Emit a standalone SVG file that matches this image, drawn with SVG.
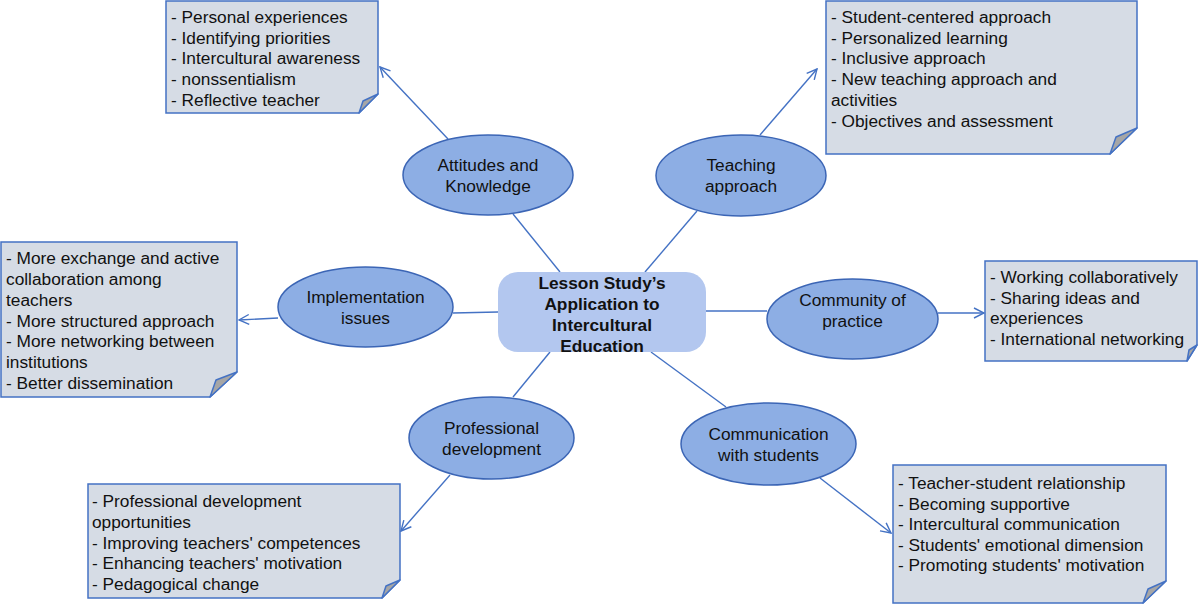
<svg xmlns="http://www.w3.org/2000/svg" width="1200" height="605" viewBox="0 0 1200 605">
<defs>
<style>
text{font-family:"Liberation Sans",Arial,sans-serif;font-size:17.3px;fill:#111}
.note{fill:#D6DCE5;stroke:#4472C4;stroke-width:1.5}
.fold{fill:#A6A6A6;stroke:#4472C4;stroke-width:1.5;stroke-linejoin:round}
.ell{fill:#8DAEE4;stroke:#3B65B5;stroke-width:1.5}
.ctr{fill:#B3C7EF}
.c{text-anchor:middle}
.b{font-weight:bold}
.ln{stroke:#4472C4;stroke-width:1.4;fill:none}
</style>
<marker id="arr" viewBox="0 0 12 12" refX="11" refY="6" markerWidth="12" markerHeight="12" markerUnits="userSpaceOnUse" orient="auto">
<path d="M1,1 L11,6 L1,11" fill="none" stroke="#4472C4" stroke-width="1.4"/>
</marker>
</defs>
<rect width="1200" height="605" fill="#fff"/>

<g id="connectors">
<line class="ln" x1="560" y1="272" x2="513" y2="214"/>
<line class="ln" x1="448" y1="139" x2="380" y2="67" marker-end="url(#arr)"/>
<line class="ln" x1="645" y1="272" x2="697" y2="211"/>
<line class="ln" x1="760" y1="135" x2="817" y2="69" marker-end="url(#arr)"/>
<line class="ln" x1="706" y1="311" x2="767" y2="311"/>
<line class="ln" x1="938" y1="313" x2="984" y2="313" marker-end="url(#arr)"/>
<line class="ln" x1="498" y1="312" x2="453" y2="313"/>
<line class="ln" x1="278" y1="318" x2="239" y2="320" marker-end="url(#arr)"/>
<line class="ln" x1="550" y1="352" x2="513" y2="397"/>
<line class="ln" x1="450" y1="475" x2="401" y2="531" marker-end="url(#arr)"/>
<line class="ln" x1="651" y1="352" x2="726" y2="407"/>
<line class="ln" x1="820" y1="478" x2="891" y2="533" marker-end="url(#arr)"/>
</g>

<g id="center">
<rect class="ctr" x="498" y="272" width="208" height="80" rx="20"/>
<text class="c b" x="602" y="289">Lesson Study’s</text>
<text class="c b" x="602" y="310">Application to</text>
<text class="c b" x="602" y="331">Intercultural</text>
<text class="c b" x="602" y="352">Education</text>
</g>

<g id="attitudes">
<ellipse class="ell" cx="488" cy="175" rx="85" ry="40"/>
<text class="c" x="488" y="171">Attitudes and</text>
<text class="c" x="488" y="192">Knowledge</text>
</g>
<g id="teaching">
<ellipse class="ell" cx="741" cy="175.5" rx="85" ry="40.5"/>
<text class="c" x="741" y="171">Teaching</text>
<text class="c" x="741" y="192">approach</text>
</g>
<g id="implementation">
<ellipse class="ell" cx="365.5" cy="307" rx="87.5" ry="40"/>
<text class="c" x="365.5" y="303">Implementation</text>
<text class="c" x="365.5" y="324">issues</text>
</g>
<g id="community">
<ellipse class="ell" cx="852.5" cy="319" rx="85.5" ry="40"/>
<text class="c" x="852.5" y="306">Community of</text>
<text class="c" x="852.5" y="327">practice</text>
</g>
<g id="professional">
<ellipse class="ell" cx="491.5" cy="438" rx="82.5" ry="41"/>
<text class="c" x="491.5" y="434">Professional</text>
<text class="c" x="491.5" y="455">development</text>
</g>
<g id="communication">
<ellipse class="ell" cx="768.5" cy="444" rx="87.5" ry="41"/>
<text class="c" x="768.5" y="440">Communication</text>
<text class="c" x="768.5" y="461">with students</text>
</g>

<g id="note-attitudes">
<path class="note" d="M166,1 H378 V94 L359,113 H166 Z"/>
<path class="fold" d="M378,94 L363,101 L359,113 Z"/>
<text x="171" y="23">- Personal experiences</text>
<text x="171" y="44">- Identifying priorities</text>
<text x="171" y="64">- Intercultural awareness</text>
<text x="171" y="85">- nonssentialism</text>
<text x="171" y="106">- Reflective teacher</text>
</g>
<g id="note-teaching">
<path class="note" d="M826,1 H1137 V128 L1110,154 H826 Z"/>
<path class="fold" d="M1137,128 L1116,137 L1110,154 Z"/>
<text x="831" y="23">- Student-centered approach</text>
<text x="831" y="44">- Personalized learning</text>
<text x="831" y="64">- Inclusive approach</text>
<text x="831" y="85">- New teaching approach and</text>
<text x="831" y="106">activities</text>
<text x="831" y="127">- Objectives and assessment</text>
</g>
<g id="note-implementation">
<path class="note" d="M1,242 H237 V372 L210,397 H1 Z"/>
<path class="fold" d="M237,372 L216,380 L210,397 Z"/>
<text x="6" y="264">- More exchange and active</text>
<text x="6" y="285">collaboration among</text>
<text x="6" y="306">teachers</text>
<text x="6" y="327">- More structured approach</text>
<text x="6" y="347">- More networking between</text>
<text x="6" y="368">institutions</text>
<text x="6" y="389">- Better dissemination</text>
</g>
<g id="note-community">
<path class="note" d="M985,261 H1197 V345 L1187,361 H985 Z"/>
<path class="fold" d="M1197,345 L1189,350 L1187,361 Z"/>
<text x="990" y="283">- Working collaboratively</text>
<text x="990" y="304">- Sharing ideas and</text>
<text x="990" y="324">experiences</text>
<text x="990" y="345">- International networking</text>
</g>
<g id="note-professional">
<path class="note" d="M88,484 H400 V580 L382,598 H88 Z"/>
<path class="fold" d="M400,580 L386,586 L382,598 Z"/>
<text x="92" y="507">- Professional development</text>
<text x="92" y="528">opportunities</text>
<text x="92" y="549">- Improving teachers' competences</text>
<text x="92" y="569">- Enhancing teachers' motivation</text>
<text x="92" y="590">- Pedagogical change</text>
</g>
<g id="note-communication">
<path class="note" d="M893,465 H1166 V581 L1143,603 H893 Z"/>
<path class="fold" d="M1166,581 L1148,589 L1143,603 Z"/>
<text x="898" y="489">- Teacher-student relationship</text>
<text x="898" y="510">- Becoming supportive</text>
<text x="898" y="530">- Intercultural communication</text>
<text x="898" y="551">- Students' emotional dimension</text>
<text x="898" y="571">- Promoting students' motivation</text>
</g>
</svg>
